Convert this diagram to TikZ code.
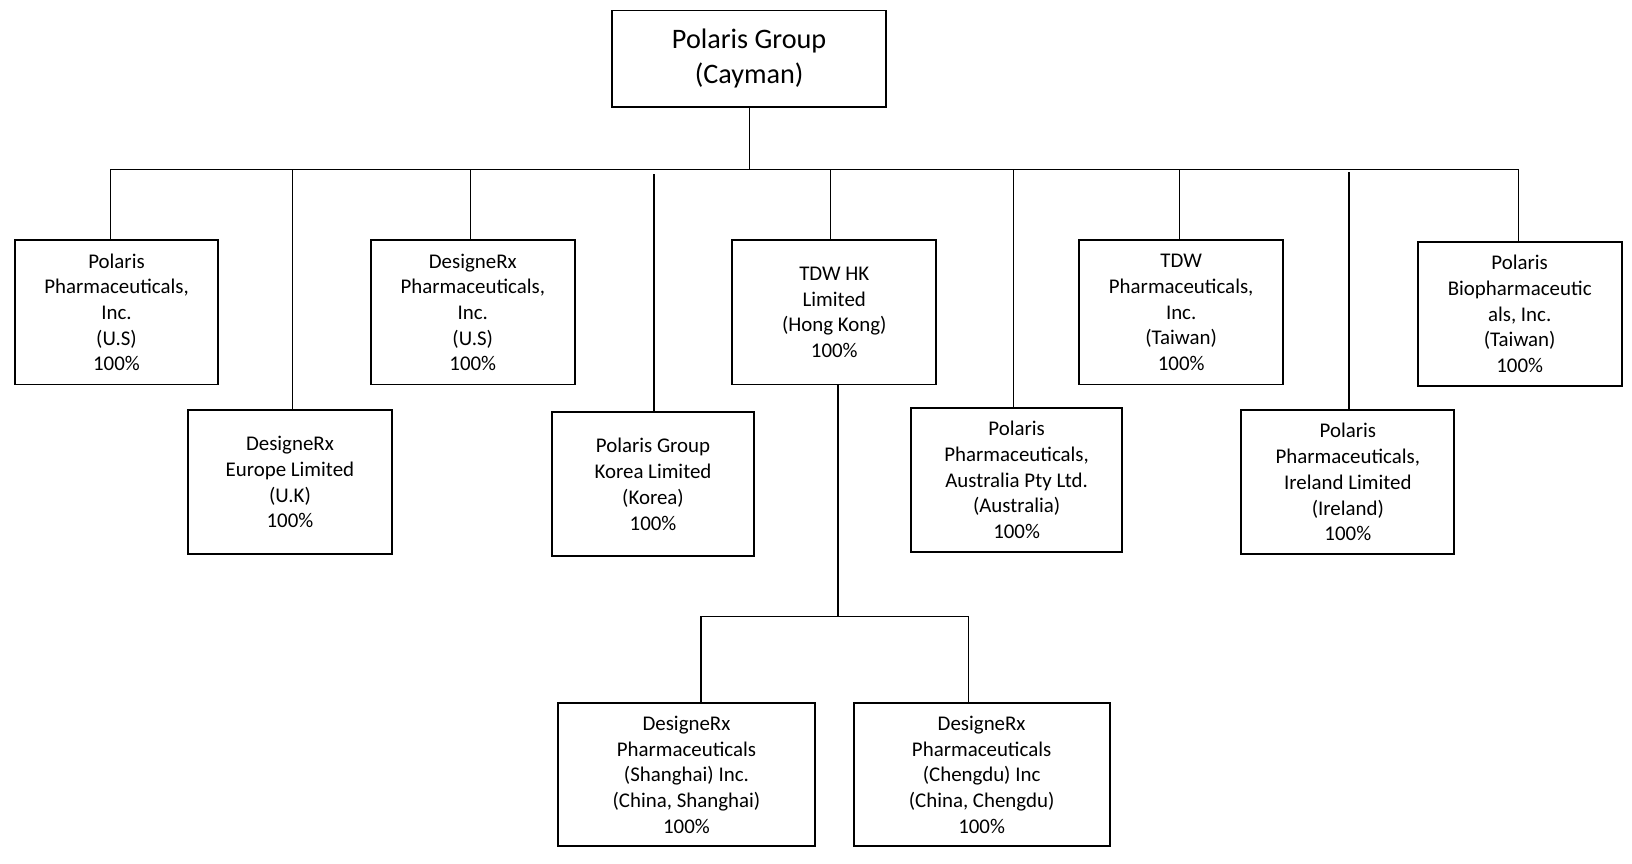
\documentclass[tikz,border=0pt]{standalone}
\usepackage{fontspec}
\setmainfont{Carlito}
\begin{document}
\begin{tikzpicture}[x=0.5pt,y=-0.5pt,
 box/.style={draw,line width=0.9pt,align=center,inner sep=0pt,font=\fontsize{10}{12.3}\selectfont},
 ln/.style={line width=0.6pt}]
\useasboundingbox (0,0) rectangle (1562,826);
\node[box,minimum width=131pt,minimum height=46pt,font=\fontsize{13.5}{17}\selectfont] (top) at (717,56) {Polaris Group\\(Cayman)};
\tikzset{b1/.style={box,minimum width=97.5pt,minimum height=69pt}}
\node[b1] (A) at (111.5,299) {Polaris\\Pharmaceuticals,\\Inc.\\(U.S)\\100\%};
\node[b1] (C) at (452.5,299) {DesigneRx\\Pharmaceuticals,\\Inc.\\(U.S)\\100\%};
\node[b1] (E) at (798.5,299) {TDW HK\\Limited\\(Hong Kong)\\100\%};
\node[b1] (G) at (1130.5,299) {TDW\\Pharmaceuticals,\\Inc.\\(Taiwan)\\100\%};
\node[b1] (I) at (1454.5,300.5) {Polaris\\Biopharmaceutic\\als, Inc.\\(Taiwan)\\100\%};
\node[b1] (B) at (277.5,461.5) {DesigneRx\\Europe Limited\\(U.K)\\100\%};
\node[b1,minimum width=97pt] (D) at (625,463.5) {Polaris Group\\Korea Limited\\(Korea)\\100\%};
\node[b1,minimum width=101pt] (F) at (973,459.5) {Polaris\\Pharmaceuticals,\\Australia Pty Ltd.\\(Australia)\\100\%};
\node[b1,minimum width=102pt] (H) at (1290,461.5) {Polaris\\Pharmaceuticals,\\Ireland Limited\\(Ireland)\\100\%};
\tikzset{b3/.style={box,minimum width=123pt,minimum height=68.5pt}}
\node[b3] (J) at (657,741.5) {DesigneRx\\Pharmaceuticals\\(Shanghai) Inc.\\(China, Shanghai)\\100\%};
\node[b3,minimum width=122.5pt] (K) at (939.5,741.5) {DesigneRx\\Pharmaceuticals\\(Chengdu) Inc\\(China, Chengdu)\\100\%};
\coordinate (bus) at (717,162);
\draw[ln] (top.south) -- (bus);
\draw[ln] (106,162) -- (1453,162);
\draw[ln] (106,162) -- (106,162 |- A.north);
\draw[ln] (280,162) -- (280,162 |- B.north);
\draw[ln] (450,162) -- (450,162 |- C.north);
\draw[ln] (626,167) -- (626,167 |- D.north);
\draw[ln] (795,162) -- (795,162 |- E.north);
\draw[ln] (970,162) -- (970,162 |- F.north);
\draw[ln] (1129,162) -- (1129,162 |- G.north);
\draw[ln] (1291,165) -- (1291,165 |- H.north);
\draw[ln] (1453,162) -- (1453,162 |- I.north);
\draw[ln] (802,0 |- E.south) -- (802,590);
\draw[ln] (671,590) -- (927,590);
\draw[ln] (671,590) -- (671,590 |- J.north);
\draw[ln] (927,590) -- (927,590 |- K.north);
\end{tikzpicture}
\end{document}
